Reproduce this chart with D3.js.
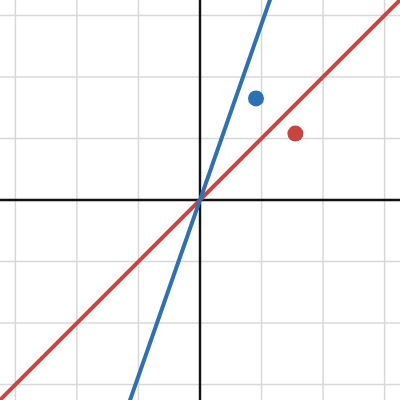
<!DOCTYPE html>
<html><head><meta charset="utf-8">
<script src="https://cdn.jsdelivr.net/npm/d3@7"></script>
<style>html,body{margin:0;padding:0;background:#fff;}svg{display:block;}</style>
</head><body>
<svg id="c" width="400" height="400"></svg>
<script>
const gridTicks = [-3, -2, -1, 1, 2, 3];
const lineNames = ["red", "blue"];
const lineSlopes = [1.0, 2.86];
const lineColors = ["#c74440", "#2d70b3"];
const pointX = [0.91, 1.55];
const pointY = [1.65, 1.08];
const pointColors = ["#2d70b3", "#c74440"];

const W = 400, H = 400;
const x = d3.scaleLinear().domain([-3.25, 3.25]).range([0, W]);
const y = d3.scaleLinear().domain([-3.25, 3.25]).range([H, 0]);
const svg = d3.select("#c");

svg.append("g").selectAll("line.v").data(gridTicks).join("line")
  .attr("x1", d => x(d)).attr("x2", d => x(d)).attr("y1", 0).attr("y2", H)
  .attr("stroke", "#d8d8d8").attr("stroke-width", 1.5);
svg.append("g").selectAll("line.h").data(gridTicks).join("line")
  .attr("y1", d => y(d)).attr("y2", d => y(d)).attr("x1", 0).attr("x2", W)
  .attr("stroke", "#d8d8d8").attr("stroke-width", 1.5);

svg.append("line").attr("x1", x(0)).attr("x2", x(0)).attr("y1", 0).attr("y2", H)
  .attr("stroke", "#111").attr("stroke-width", 2.4);
svg.append("line").attr("y1", y(0)).attr("y2", y(0)).attr("x1", 0).attr("x2", W)
  .attr("stroke", "#111").attr("stroke-width", 2.4);

const dom = [-4, 4];
const lineGen = d3.line().x(d => x(d[0])).y(d => y(d[1]));
svg.append("g").selectAll("path").data(lineSlopes.map((s, i) => ({s, c: lineColors[i]}))).join("path")
  .attr("d", d => lineGen(dom.map(t => [t, d.s * t])))
  .attr("fill", "none").attr("stroke", d => d.c).attr("stroke-width", 4);

svg.append("g").selectAll("circle").data(pointX.map((v, i) => ({x: v, y: pointY[i], c: pointColors[i]}))).join("circle")
  .attr("cx", d => x(d.x)).attr("cy", d => y(d.y)).attr("r", 8)
  .attr("fill", d => d.c);
</script>
</body></html>
